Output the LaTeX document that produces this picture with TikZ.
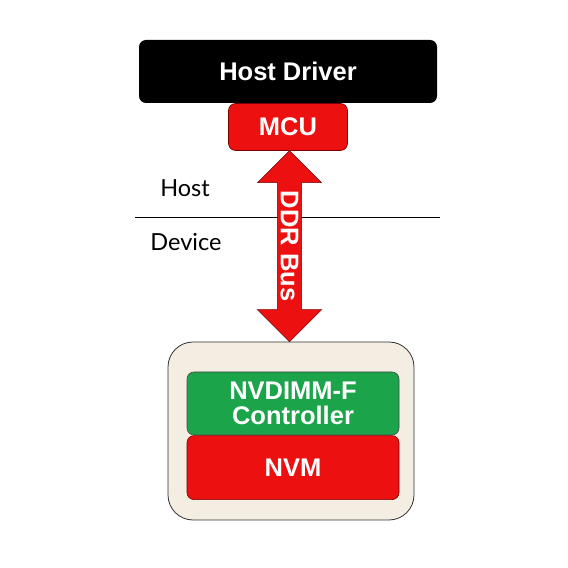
\documentclass[tikz,border=0pt]{standalone}
\usepackage{fontspec}
\setmainfont{Liberation Sans}
\newfontfamily\labelfont{Lato}
\usetikzlibrary{shapes.arrows, positioning}
\definecolor{busred}{RGB}{236, 16, 16}
\definecolor{edgered}{RGB}{120, 0, 0}
\definecolor{ctrlgreen}{RGB}{28, 164, 74}
\definecolor{devbeige}{RGB}{243, 237, 226}
\tikzstyle{box} = [rectangle, rounded corners=7pt, text centered,
                   text=white, font=\fontsize{25.5}{27}\selectfont\bfseries,
                   inner sep=0pt]
\tikzstyle{redbox} = [box, draw=edgered, fill=busred, line width=0.6pt]
\tikzstyle{side} = [font=\labelfont\fontsize{23.5}{25}\selectfont, inner sep=0pt]
\tikzstyle{busarrow} = [double arrow, draw=edgered, fill=busred,
                        line width=0.6pt, text=white,
                        font=\fontsize{25.5}{27}\selectfont\bfseries,
                        minimum height=191pt, minimum width=64pt,
                        double arrow head extend=15pt,
                        double arrow tip angle=90, inner sep=0pt]

\begin{document}
\begin{tikzpicture}[x=1pt, y=1pt]
    \useasboundingbox (0,0) rectangle (568,568);

        \node (Driver) [box, fill=black, minimum width=298pt, minimum height=63pt] at (288,496.5) {Host Driver};

        \node (MCU) [redbox, minimum width=119pt, minimum height=47pt, below=0pt of Driver] {MCU};

        \node (Device) [rectangle, rounded corners=25pt, draw=black!80, fill=devbeige, line width=0.8pt,
                        minimum width=246pt, minimum height=178pt] at (291,137) {};

        \node (Ctrl) [box, draw=black!70, fill=ctrlgreen, line width=0.6pt, minimum width=212pt, minimum height=63pt,
                      align=center] at (293,164.5) {NVDIMM-F\\[-2pt]Controller};

        \node (NVM) [redbox, minimum width=212pt, minimum height=64pt, below=0pt of Ctrl] {NVM};

        \coordinate (LineL) at (135,351);
        \coordinate (LineR) at (440,351);
        \draw [line width=0.8pt] (LineL) -- (LineR);

        \node (Host) [side] at (185,380) {Host};
        \node (Dev) [side] at (186,326) {Device};

        \path (MCU.south) -- node[busarrow, rotate=-90] (Bus) {DDR Bus} (Device.north);

\end{tikzpicture}
\end{document}
